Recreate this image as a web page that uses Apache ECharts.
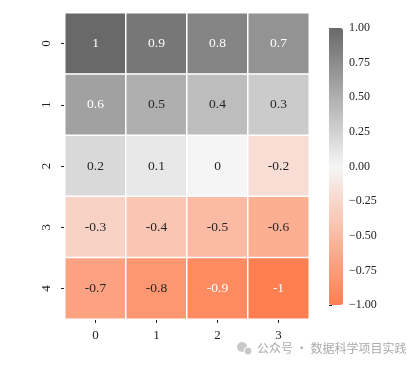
<!DOCTYPE html>
<html><head><meta charset="utf-8">
<script src="https://cdn.jsdelivr.net/npm/echarts@6/dist/echarts.min.js"></script>
<style>html,body{margin:0;padding:0;background:#fff}#c{width:418px;height:367px}</style>
</head><body><div id="c"></div>
<script>
const xCategories = ['0', '1', '2', '3'];
const yCategories = ['0', '1', '2', '3', '4'];
const row0 = [1, 0.9, 0.8, 0.7];
const row1 = [0.6, 0.5, 0.4, 0.3];
const row2 = [0.2, 0.1, 0, -0.2];
const row3 = [-0.3, -0.4, -0.5, -0.6];
const row4 = [-0.7, -0.8, -0.9, -1];
const rows = [row0, row1, row2, row3, row4];
const colorbarMin = -1, colorbarMax = 1, colorbarStep = 0.25;

const FONT = '"Liberation Serif", "DejaVu Serif", serif';
const data = [];
rows.forEach((r, yi) => r.forEach((v, xi) => {
  const light = v >= 0.55 || v <= -0.85;
  data.push({ value: [xi, yi, v], label: { color: light ? '#ffffff' : '#262626' } });
}));

const chart = echarts.init(document.getElementById('c'));
chart.setOption({
  animation: false,
  backgroundColor: '#ffffff',
  grid: [
    { left: 65, top: 13, width: 244, height: 306 },
    { left: 329, top: 28, width: 14, height: 277 }
  ],
  xAxis: [
    { type: 'category', data: xCategories, gridIndex: 0,
      axisLine: { show: false }, splitArea: { show: false },
      axisTick: { show: true, length: 4, alignWithLabel: true, lineStyle: { color: '#222' } },
      axisLabel: { color: '#222', fontFamily: FONT, fontSize: 13, margin: 10 } },
    { type: 'value', gridIndex: 1, show: false, min: 0, max: 1 }
  ],
  yAxis: [
    { type: 'category', data: yCategories, gridIndex: 0, inverse: true,
      axisLine: { show: false }, splitArea: { show: false },
      axisTick: { show: true, length: 4, alignWithLabel: true, lineStyle: { color: '#222' } },
      axisLabel: { color: '#222', fontFamily: FONT, fontSize: 13, rotate: 90, margin: 12 } },
    { type: 'value', gridIndex: 1, position: 'right', min: colorbarMin, max: colorbarMax, interval: colorbarStep,
      axisLine: { show: false }, splitLine: { show: false },
      axisTick: { show: true, length: 3, lineStyle: { color: '#222' } },
      axisLabel: { color: '#222', fontFamily: FONT, fontSize: 12, margin: 6,
        formatter: v => (v < 0 ? '\u2212' : '') + Math.abs(v).toFixed(2) } }
  ],
  visualMap: {
    type: 'continuous', min: colorbarMin, max: colorbarMax, calculable: false,
    left: 329, top: 28, itemWidth: 14, itemHeight: 277, padding: 0,
    orient: 'vertical', seriesIndex: 0,
    inRange: { color: ['#FF7F50', '#F5F5F5', '#696969'] }
  },
  series: [{
    type: 'heatmap', xAxisIndex: 0, yAxisIndex: 0, data: data,
    itemStyle: { borderColor: '#ffffff', borderWidth: 1.5 },
    label: { show: true, fontFamily: FONT, fontSize: 13.5, formatter: p => String(p.value[2]) },
    emphasis: { disabled: true }
  }],
  graphic: [
    { type: 'circle', shape: { cx: 242, cy: 347, r: 5 }, style: { fill: '#c8c8c8' } },
    { type: 'circle', shape: { cx: 248, cy: 351, r: 4 }, style: { fill: '#c8c8c8', stroke: '#fff', lineWidth: 1 } },
    { type: 'text', left: 257, top: 342,
      style: { text: '公众号 · 数据科学项目实践', fill: '#aaaaaa', font: '12px "Noto Sans CJK SC"' } }
  ]
});
</script></body></html>
